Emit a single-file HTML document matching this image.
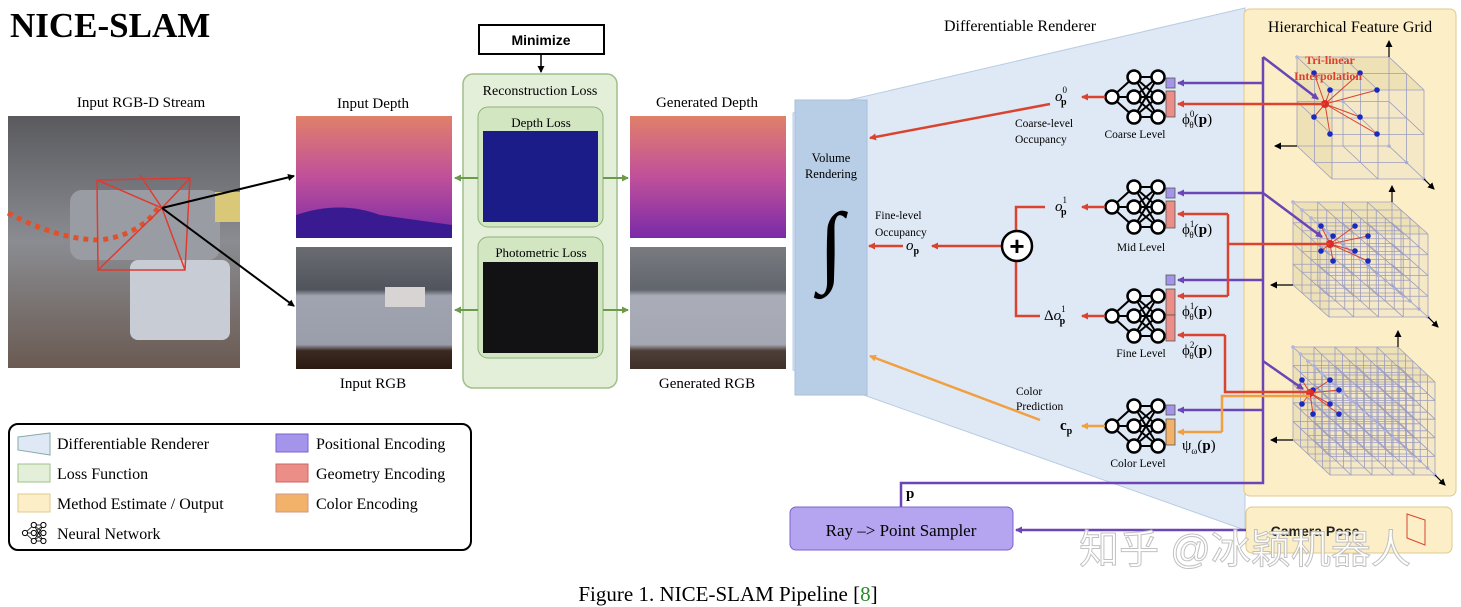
<!DOCTYPE html>
<html><head><meta charset="utf-8"><style>
html,body{margin:0;padding:0;background:#fff;width:1461px;height:607px;overflow:hidden}
svg{display:block}
.s{font-family:"Liberation Serif",serif}
.a{font-family:"Liberation Sans",sans-serif}
</style></head><body>
<svg id="g" width="1461" height="607" viewBox="0 0 1461 607" xmlns="http://www.w3.org/2000/svg">
<defs>
<marker id="ar" markerWidth="8" markerHeight="8" refX="6" refY="4" orient="auto" markerUnits="userSpaceOnUse"><path d="M0,0.5 L7,4 L0,7.5 Z" fill="#d9432f"/></marker>
<marker id="ap" markerWidth="8" markerHeight="8" refX="6" refY="4" orient="auto" markerUnits="userSpaceOnUse"><path d="M0,0.5 L7,4 L0,7.5 Z" fill="#6b45b5"/></marker>
<marker id="ao" markerWidth="8" markerHeight="8" refX="6" refY="4" orient="auto" markerUnits="userSpaceOnUse"><path d="M0,0.5 L7,4 L0,7.5 Z" fill="#f0a040"/></marker>
<marker id="ag" markerWidth="8" markerHeight="8" refX="6" refY="4" orient="auto" markerUnits="userSpaceOnUse"><path d="M0,0.5 L7,4 L0,7.5 Z" fill="#6a9a4a"/></marker>
<marker id="ak" markerWidth="8" markerHeight="8" refX="6" refY="4" orient="auto" markerUnits="userSpaceOnUse"><path d="M0,0.5 L7,4 L0,7.5 Z" fill="#000"/></marker>
<linearGradient id="dep" x1="0" y1="0" x2="0" y2="1"><stop offset="0" stop-color="#e0806a"/><stop offset="0.5" stop-color="#c0509a"/><stop offset="1" stop-color="#7a2aa8"/></linearGradient>
<linearGradient id="rgbd" x1="0" y1="0" x2="0" y2="1"><stop offset="0" stop-color="#5a5a5e"/><stop offset="0.5" stop-color="#8a8c92"/><stop offset="1" stop-color="#6a5a52"/></linearGradient>
<linearGradient id="rgb" x1="0" y1="0" x2="0" y2="1"><stop offset="0" stop-color="#6a6c72"/><stop offset="0.35" stop-color="#50545c"/><stop offset="0.4" stop-color="#a0a4b0"/><stop offset="0.8" stop-color="#9a9eaa"/><stop offset="0.85" stop-color="#3a2a22"/><stop offset="1" stop-color="#2a1a12"/></linearGradient>
</defs>
<rect width="1461" height="607" fill="#fff"/>
<text x="10" y="37" class="s" font-size="35" font-weight="bold">NICE-SLAM</text>

<text x="141" y="107" class="s" font-size="15" text-anchor="middle">Input RGB-D Stream</text>
<rect x="8" y="116" width="232" height="252" fill="url(#rgbd)"/>
<rect x="70" y="190" width="150" height="70" rx="12" fill="#9a9ca4"/>
<rect x="130" y="260" width="100" height="80" rx="8" fill="#c8ccd4"/>
<rect x="215" y="192" width="25" height="30" fill="#d8c878"/>
<path d="M8,213 Q60,240 100,240 Q140,235 158,208" stroke="#e0502a" stroke-width="5" stroke-dasharray="5,5" fill="none"/>
<path d="M97,180 L190,178 L185,270 L98,270 Z M97,180 L162,208 L185,270 M162,208 L98,270 M162,208 L190,178 M140,175 L162,208" stroke="#e03a30" stroke-width="1.5" fill="none"/>
<line x1="162" y1="208" x2="294" y2="176" stroke="#000" stroke-width="2" marker-end="url(#ak)"/>
<line x1="162" y1="208" x2="294" y2="306" stroke="#000" stroke-width="2" marker-end="url(#ak)"/>

<text x="373" y="108" class="s" font-size="15" text-anchor="middle">Input Depth</text>
<rect x="296" y="116" width="156" height="122" fill="url(#dep)"/>
<path d="M296,215 Q340,200 380,215 L452,225 L452,238 L296,238Z" fill="#3a1a90"/>
<rect x="296" y="247" width="156" height="122" fill="url(#rgb)"/>
<rect x="385" y="287" width="40" height="20" fill="#d8d4d4"/>
<text x="373" y="388" class="s" font-size="15" text-anchor="middle">Input RGB</text>

<rect x="479" y="25" width="125" height="29" fill="#fff" stroke="#000" stroke-width="2"/>
<text x="541" y="45" class="a" font-size="14" font-weight="bold" text-anchor="middle">Minimize</text>
<line x1="541" y1="54" x2="541" y2="72" stroke="#000" stroke-width="1.5" marker-end="url(#ak)"/>
<rect x="463" y="74" width="154" height="314" rx="10" fill="#e3efd8" stroke="#9fc08a" stroke-width="1.5"/>
<text x="540" y="95" class="s" font-size="14" text-anchor="middle">Reconstruction Loss</text>
<rect x="478" y="107" width="125" height="120" rx="10" fill="#d2e6c2" stroke="#8fb07a"/>
<text x="541" y="127" class="s" font-size="13" text-anchor="middle">Depth Loss</text>
<rect x="483" y="131" width="115" height="91" fill="#1c1c88"/>
<rect x="478" y="237" width="125" height="121" rx="10" fill="#d2e6c2" stroke="#8fb07a"/>
<text x="541" y="257" class="s" font-size="13" text-anchor="middle">Photometric Loss</text>
<rect x="483" y="262" width="115" height="91" fill="#121214"/>
<line x1="478" y1="178" x2="455" y2="178" stroke="#6a9a4a" stroke-width="2" marker-end="url(#ag)"/>
<line x1="603" y1="178" x2="628" y2="178" stroke="#6a9a4a" stroke-width="2" marker-end="url(#ag)"/>
<line x1="478" y1="310" x2="455" y2="310" stroke="#6a9a4a" stroke-width="2" marker-end="url(#ag)"/>
<line x1="603" y1="310" x2="628" y2="310" stroke="#6a9a4a" stroke-width="2" marker-end="url(#ag)"/>

<text x="707" y="107" class="s" font-size="15" text-anchor="middle">Generated Depth</text>
<rect x="630" y="116" width="156" height="122" fill="url(#dep)"/>
<rect x="630" y="247" width="156" height="122" fill="url(#rgb)" opacity="0.9"/>
<text x="707" y="388" class="s" font-size="15" text-anchor="middle">Generated RGB</text>

<path d="M793,113 L1245,8 L1245,530 L793,370 Z" fill="#dfe9f5" stroke="#b8cce4"/>
<text x="1020" y="31" class="s" font-size="16" text-anchor="middle">Differentiable Renderer</text>
<rect x="795" y="100" width="72" height="295" fill="#b8cde6" stroke="#a8bedc"/>
<text x="831" y="162" class="s" font-size="12.5" text-anchor="middle">Volume</text>
<text x="831" y="178" class="s" font-size="12.5" text-anchor="middle">Rendering</text>
<text x="831" y="275" class="s" font-size="90" font-style="italic" text-anchor="middle">∫</text>

<rect x="1244" y="9" width="212" height="487" rx="6" fill="#fcefc8" stroke="#e0c98c"/>
<text x="1350" y="32" class="s" font-size="16" text-anchor="middle">Hierarchical Feature Grid</text>
<rect x="1246" y="507" width="206" height="46" rx="6" fill="#fcefc8" stroke="#e0c98c"/>
<text x="1315" y="536" class="a" font-size="14" font-weight="bold" fill="#222" text-anchor="middle">Camera Pose</text>
<path d="M1407,514 L1425,520 L1425,545 L1407,538Z" fill="none" stroke="#d9432f"/>

<g id="cubes"></g>
<text x="1330" y="64" class="s" font-size="12" font-weight="bold" fill="#d9402f" text-anchor="middle">Tri-linear</text>
<text x="1328" y="80" class="s" font-size="12" font-weight="bold" fill="#d9402f" text-anchor="middle">Interpolation</text>
<g id="nets"></g>

<g stroke="#6b45b5" stroke-width="2.5" fill="none">
<path d="M1263,57 L1263,483 L901,483 L901,507"/>
<line x1="1263" y1="83" x2="1178" y2="83" marker-end="url(#ap)"/>
<line x1="1263" y1="193" x2="1178" y2="193" marker-end="url(#ap)"/>
<line x1="1263" y1="280" x2="1178" y2="280" marker-end="url(#ap)"/>
<line x1="1263" y1="410" x2="1178" y2="410" marker-end="url(#ap)"/>
<line x1="1263" y1="57" x2="1318" y2="99" marker-end="url(#ap)"/>
<line x1="1263" y1="193" x2="1322" y2="237" marker-end="url(#ap)"/>
<line x1="1263" y1="361" x2="1303" y2="389" marker-end="url(#ap)"/>
<line x1="1246" y1="530" x2="1016" y2="530" marker-end="url(#ap)"/>
</g>
<text x="906" y="498" class="s" font-size="15" font-weight="bold">p</text>
<rect x="790" y="507" width="223" height="43" rx="6" fill="#b5a4f0" stroke="#7c62d2"/>
<text x="901" y="536" class="s" font-size="17" text-anchor="middle">Ray –&gt; Point Sampler</text>

<g stroke="#d9432f" stroke-width="2.5" fill="none">
<line x1="1325" y1="104" x2="1178" y2="104" marker-end="url(#ar)"/>
<path d="M1330,244 L1228,244"/>
<path d="M1228,214 L1228,296"/>
<line x1="1228" y1="214" x2="1178" y2="214" marker-end="url(#ar)"/>
<line x1="1228" y1="296" x2="1178" y2="296" marker-end="url(#ar)"/>
<path d="M1310,392 L1225,392 L1225,335"/>
<line x1="1225" y1="335" x2="1178" y2="335" marker-end="url(#ar)"/>
<line x1="1105" y1="97" x2="1082" y2="97" marker-end="url(#ar)"/>
<line x1="1050" y1="104" x2="870" y2="138" marker-end="url(#ar)"/>
<line x1="1105" y1="207" x2="1082" y2="207" marker-end="url(#ar)"/>
<line x1="1105" y1="316" x2="1082" y2="316" marker-end="url(#ar)"/>
<path d="M1045,207 L1016,207 L1016,316 L1040,316"/>
<line x1="1003" y1="246" x2="932" y2="246" marker-end="url(#ar)"/>
<line x1="903" y1="246" x2="869" y2="246" marker-end="url(#ar)"/>
</g>
<g stroke="#f0a040" stroke-width="2.5" fill="none">
<path d="M1310,396 L1222,396 L1222,432"/>
<line x1="1222" y1="432" x2="1178" y2="432" marker-end="url(#ao)"/>
<line x1="1105" y1="426" x2="1082" y2="426" marker-end="url(#ao)"/>
<line x1="1040" y1="420" x2="870" y2="356" marker-end="url(#ao)"/>
</g>
<circle cx="1017" cy="246" r="15" fill="#fff" stroke="#000" stroke-width="2.5"/>
<text x="1017" y="255" class="a" font-size="26" font-weight="bold" text-anchor="middle">+</text>

<g stroke="#555" stroke-width="0.8">
<rect x="1166" y="78" width="9" height="10" fill="#a595ea"/>
<rect x="1166" y="91" width="9" height="26" fill="#ec8e88"/>
<rect x="1166" y="188" width="9" height="10" fill="#a595ea"/>
<rect x="1166" y="201" width="9" height="27" fill="#ec8e88"/>
<rect x="1166" y="275" width="9" height="10" fill="#a595ea"/>
<rect x="1166" y="289" width="9" height="26" fill="#ec8e88"/>
<rect x="1166" y="315" width="9" height="26" fill="#ec8e88"/>
<rect x="1166" y="405" width="9" height="10" fill="#a595ea"/>
<rect x="1166" y="419" width="9" height="26" fill="#f3b26a"/>
</g>
<g class="s" font-size="15">
<text x="1182" y="124">ϕ<tspan font-size="9" dy="-7">0</tspan><tspan font-size="9" dx="-5" dy="11">θ</tspan><tspan dy="-4">(<tspan font-weight="bold">p</tspan>)</tspan></text>
<text x="1182" y="234">ϕ<tspan font-size="9" dy="-7">1</tspan><tspan font-size="9" dx="-5" dy="11">θ</tspan><tspan dy="-4">(<tspan font-weight="bold">p</tspan>)</tspan></text>
<text x="1182" y="316">ϕ<tspan font-size="9" dy="-7">1</tspan><tspan font-size="9" dx="-5" dy="11">θ</tspan><tspan dy="-4">(<tspan font-weight="bold">p</tspan>)</tspan></text>
<text x="1182" y="355">ϕ<tspan font-size="9" dy="-7">2</tspan><tspan font-size="9" dx="-5" dy="11">θ</tspan><tspan dy="-4">(<tspan font-weight="bold">p</tspan>)</tspan></text>
<text x="1182" y="450">ψ<tspan font-size="9" dy="4">ω</tspan><tspan dy="-4">(<tspan font-weight="bold">p</tspan>)</tspan></text>
<text x="1055" y="101" font-style="italic">o<tspan font-size="9" dy="-8" font-style="normal">0</tspan><tspan font-size="10" dx="-6" dy="12" font-weight="bold" font-style="normal">p</tspan></text>
<text x="1055" y="211" font-style="italic">o<tspan font-size="9" dy="-8" font-style="normal">1</tspan><tspan font-size="10" dx="-6" dy="12" font-weight="bold" font-style="normal">p</tspan></text>
<text x="1044" y="320">Δ<tspan font-style="italic">o</tspan><tspan font-size="9" dy="-8">1</tspan><tspan font-size="10" dx="-6" dy="12" font-weight="bold">p</tspan></text>
<text x="906" y="250" font-style="italic">o<tspan font-size="10" dy="4" font-weight="bold" font-style="normal">p</tspan></text>
<text x="1060" y="430" font-weight="bold">c<tspan font-size="10" dy="4">p</tspan></text>
</g>
<g class="s" font-size="11.5">
<text x="1015" y="127">Coarse-level</text><text x="1015" y="143">Occupancy</text>
<text x="875" y="219">Fine-level</text><text x="875" y="236">Occupancy</text>
<text x="1016" y="395">Color</text><text x="1016" y="410">Prediction</text>
<text x="1135" y="138" text-anchor="middle">Coarse Level</text>
<text x="1141" y="251" text-anchor="middle">Mid Level</text>
<text x="1141" y="357" text-anchor="middle">Fine Level</text>
<text x="1138" y="467" text-anchor="middle">Color Level</text>
</g>

<rect x="9" y="424" width="462" height="126" rx="9" fill="#fff" stroke="#000" stroke-width="2"/>
<path d="M18,437 L50,433 L50,455 L18,450Z" fill="#dfe9f5" stroke="#8aa"/>
<rect x="18" y="464" width="32" height="18" fill="#e3efd8" stroke="#9fc08a"/>
<rect x="18" y="494" width="32" height="18" fill="#fcefc8" stroke="#e0c98c"/>
<rect x="276" y="434" width="32" height="18" fill="#a595ea" stroke="#7c62d2"/>
<rect x="276" y="464" width="32" height="18" fill="#ec8e88" stroke="#c66"/>
<rect x="276" y="494" width="32" height="18" fill="#f3b26a" stroke="#c98"/>
<g class="s" font-size="16">
<text x="57" y="449">Differentiable Renderer</text>
<text x="57" y="479">Loss Function</text>
<text x="57" y="509">Method Estimate / Output</text>
<text x="57" y="539">Neural Network</text>
<text x="316" y="449">Positional Encoding</text>
<text x="316" y="479">Geometry Encoding</text>
<text x="316" y="509">Color Encoding</text>
</g>
<g id="lnet"></g>

<text x="1245" y="563" font-family="'Liberation Sans','Noto Sans CJK SC',sans-serif" font-size="40" fill="#fff" stroke="#bbb" stroke-width="1" text-anchor="middle" opacity="0.9">知乎 @冰颖机器人</text>
<text x="728" y="601" class="s" font-size="21" text-anchor="middle">Figure 1. NICE-SLAM Pipeline [<tspan fill="#2a8a2a">8</tspan>]</text>
</svg>
<script>
var NS="http://www.w3.org/2000/svg";
function el(p,t,a){var e=document.createElementNS(NS,t);for(var k in a)e.setAttribute(k,a[k]);p.appendChild(e);return e;}
var cg=document.getElementById("cubes");
function cube(x0,y0,w,h,dx,dy,n,cx,cy,blue){
 el(cg,"path",{d:"M"+x0+","+y0+" L"+(x0+w)+","+y0+" L"+(x0+w+dx)+","+(y0+dy)+" L"+(x0+w+dx)+","+(y0+h+dy)+" L"+(x0+dx)+","+(y0+h+dy)+" L"+x0+","+(y0+h)+"Z",fill:"#e9dcae",opacity:"0.7"});
 el(cg,"rect",{x:x0+dx,y:y0+dy,width:w,height:h,fill:"#f6edd0",opacity:"0.6"});
 var s="#9b9cc0";
 for(var k=0;k<=n;k++){
  var f=k/n;
  for(var i=0;i<=n;i++){
   var g=i/n;
   var ax=x0+dx*f, ay=y0+dy*f+h*g;
   el(cg,"line",{x1:ax,y1:ay,x2:ax+w,y2:ay,stroke:s,"stroke-width":0.8});
   var bx=x0+dx*f+w*g, by=y0+dy*f;
   el(cg,"line",{x1:bx,y1:by,x2:bx,y2:by+h,stroke:s,"stroke-width":0.8});
   el(cg,"line",{x1:x0+w*f,y1:y0+h*g,x2:x0+w*f+dx,y2:y0+h*g+dy,stroke:s,"stroke-width":0.8});
   el(cg,"circle",{cx:x0+dx*f+w*i/n,cy:y0+dy*f+h*g,r:1.8,fill:"#b0b4e0"});
  }
 }
 el(cg,"line",{x1:x0+w,y1:y0,x2:x0+w,y2:y0-16,stroke:"#000","stroke-width":1.2,"marker-end":"url(#ak)"});
 el(cg,"line",{x1:x0,y1:y0+h,x2:x0-22,y2:y0+h,stroke:"#000","stroke-width":1.2,"marker-end":"url(#ak)"});
 el(cg,"line",{x1:x0+w+dx,y1:y0+h+dy,x2:x0+w+dx+10,y2:y0+h+dy+10,stroke:"#000","stroke-width":1.2,"marker-end":"url(#ak)"});
 blue.forEach(function(b){el(cg,"line",{x1:cx,y1:cy,x2:b[0],y2:b[1],stroke:"#d9432f","stroke-width":1});el(cg,"circle",{cx:b[0],cy:b[1],r:2.8,fill:"#1a2ac0"});});
 el(cg,"circle",{cx:cx,cy:cy,r:4,fill:"#e02a2a"});
}
cube(1297,57,92,89,35,33,2,1325,104,[[1314,73],[1360,73],[1330,90],[1377,90],[1314,117],[1360,117],[1330,134],[1377,134]]);
cube(1293,202,99,83,36,32,4,1330,244,[[1321,226],[1355,226],[1333,236],[1368,236],[1321,251],[1355,251],[1333,261],[1368,261]]);
cube(1293,347,105,93,37,35,5,1310,393,[[1302,380],[1330,380],[1313,390],[1339,390],[1302,404],[1330,404],[1313,414],[1339,414]]);
function net(g,x,y,s){
 var L=[[x,y]],M=[[x+22*s,y-20*s],[x+22*s,y],[x+22*s,y+20*s]],R=[[x+46*s,y-20*s],[x+46*s,y],[x+46*s,y+20*s]];
 L.forEach(function(a){M.forEach(function(b){el(g,"line",{x1:a[0],y1:a[1],x2:b[0],y2:b[1],stroke:"#000","stroke-width":2*s});});});
 M.forEach(function(a){R.forEach(function(b){el(g,"line",{x1:a[0],y1:a[1],x2:b[0],y2:b[1],stroke:"#000","stroke-width":2*s});});});
 L.concat(M,R).forEach(function(p){el(g,"circle",{cx:p[0],cy:p[1],r:6.5*s,fill:"#fff",stroke:"#000","stroke-width":Math.max(1,2.5*s)});});
}
var ng=document.getElementById("nets");
net(ng,1112,97,1);net(ng,1112,207,1);net(ng,1112,316,1);net(ng,1112,426,1);
net(document.getElementById("lnet"),25,533,0.4);
</script>
</body></html>
